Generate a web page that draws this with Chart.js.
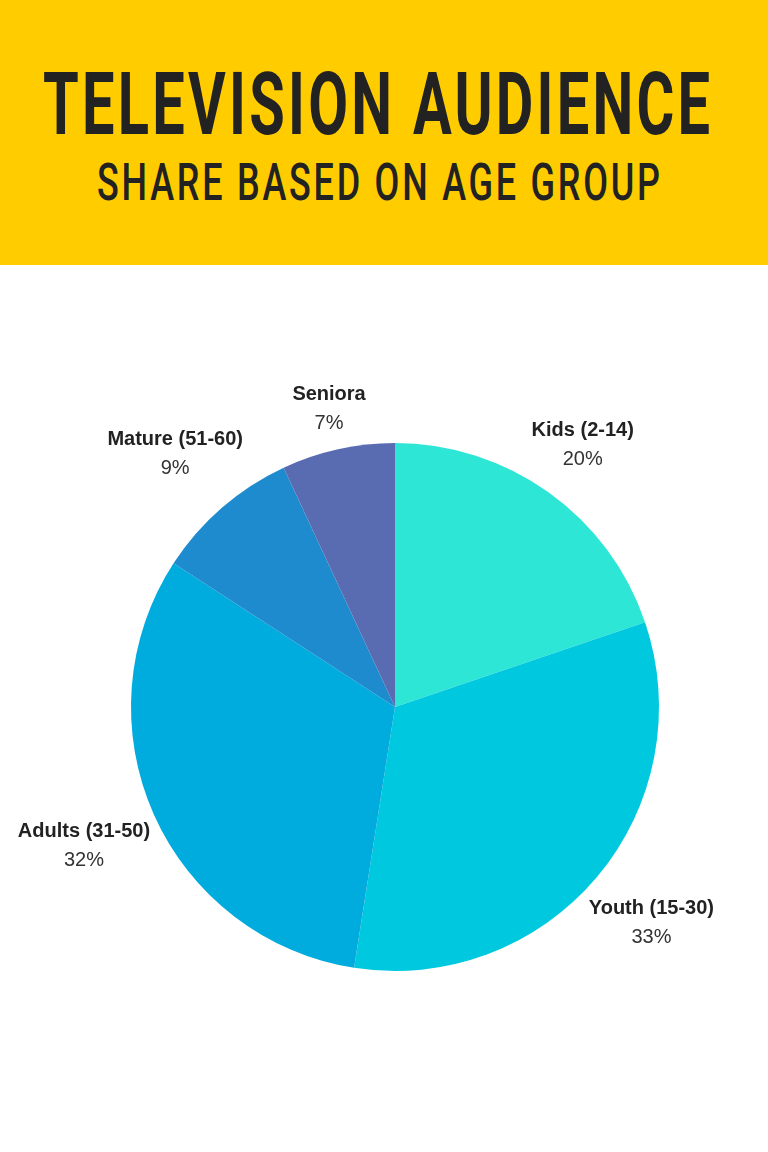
<!DOCTYPE html>
<html>
<head>
<meta charset="utf-8">
<script src="https://cdn.jsdelivr.net/npm/chart.js@4.4.1/dist/chart.umd.min.js"></script>
<style>
  html, body { margin: 0; padding: 0; background: #ffffff; }
  body { width: 768px; height: 1152px; overflow: hidden; position: relative; }
  #header { position: absolute; left: 0; top: 0; width: 768px; height: 265px; background: #FFCC00; }
  .ttl { position: absolute; left: 0; white-space: nowrap; color: #222222; font-family: Roboto, "Liberation Sans", sans-serif; line-height: 1; transform-origin: 0 0; }
  #t1 { font-size: 88px; top: 60px; font-weight: 700; letter-spacing: 5px; }
  #t2 { font-size: 52px; top: 157px; font-weight: 500; letter-spacing: 4px; }
  #wrap { position: absolute; left: 0; top: 265px; width: 768px; height: 887px; }
</style>
</head>
<body>
<div id="header">
  <span class="ttl" id="t1">TELEVISION AUDIENCE</span>
  <span class="ttl" id="t2">SHARE BASED ON AGE GROUP</span>
</div>
<div id="wrap"><canvas id="c" width="768" height="887"></canvas></div>
<script>
// ---- data ----
const categories = ["Kids (2-14)", "Youth (15-30)", "Adults (31-50)", "Mature (51-60)", "Seniora"];
const shares = [20, 33, 32, 9, 7];
const shareLabels = ["20%", "33%", "32%", "9%", "7%"];
const colors = ["#2EE6D6", "#00C9DF", "#00ABDD", "#1F8BCF", "#596CB2"];

// ---- title fitting (letter-spacing adds trailing space; exclude it) ----
function fitTitle(id, left, width, ls) {
  const el = document.getElementById(id);
  const w = el.getBoundingClientRect().width - ls;
  el.style.left = left + "px";
  el.style.transform = "scaleX(" + (width / w) + ")";
}
fitTitle("t1", 43, 667, 5);
fitTitle("t2", 97, 563, 4);

// ---- outside labels plugin ----
const outsideLabels = {
  id: "outsideLabels",
  afterDatasetsDraw(chart) {
    const ctx = chart.ctx;
    const meta = chart.getDatasetMeta(0);
    ctx.save();
    meta.data.forEach((arc, i) => {
      const p = arc.getProps(["x", "y", "startAngle", "endAngle", "outerRadius"], true);
      const mid = (p.startAngle + p.endAngle) / 2;
      const c = Math.cos(mid), s = Math.sin(mid);
      ctx.font = "bold 20px 'Liberation Sans', Arial, sans-serif";
      const w1 = ctx.measureText(categories[i]).width;
      ctx.font = "20px 'Liberation Sans', Arial, sans-serif";
      const w2 = ctx.measureText(shareLabels[i]).width;
      const hw = Math.max(w1, w2) / 2, hh = 30, gap = 4;
      const d = p.outerRadius + gap + hw * Math.abs(c) + hh * Math.abs(s);
      const cx = p.x + c * d, cy = p.y + s * d;
      ctx.textAlign = "center";
      ctx.textBaseline = "middle";
      ctx.fillStyle = "#222222";
      ctx.font = "bold 20px 'Liberation Sans', Arial, sans-serif";
      ctx.fillText(categories[i], cx, cy - 14.5);
      ctx.fillStyle = "#333333";
      ctx.font = "20px 'Liberation Sans', Arial, sans-serif";
      ctx.fillText(shareLabels[i], cx, cy + 14.5);
    });
    ctx.restore();
  }
};

new Chart(document.getElementById("c"), {
  type: "pie",
  data: {
    labels: categories,
    datasets: [{ data: shares, backgroundColor: colors, borderWidth: 0 }]
  },
  options: {
    responsive: false,
    animation: false,
    layout: { padding: { left: 131, right: 109, top: 178, bottom: 181 } },
    plugins: { legend: { display: false }, tooltip: { enabled: false }, title: { display: false } }
  },
  plugins: [outsideLabels]
});
</script>
</body>
</html>
